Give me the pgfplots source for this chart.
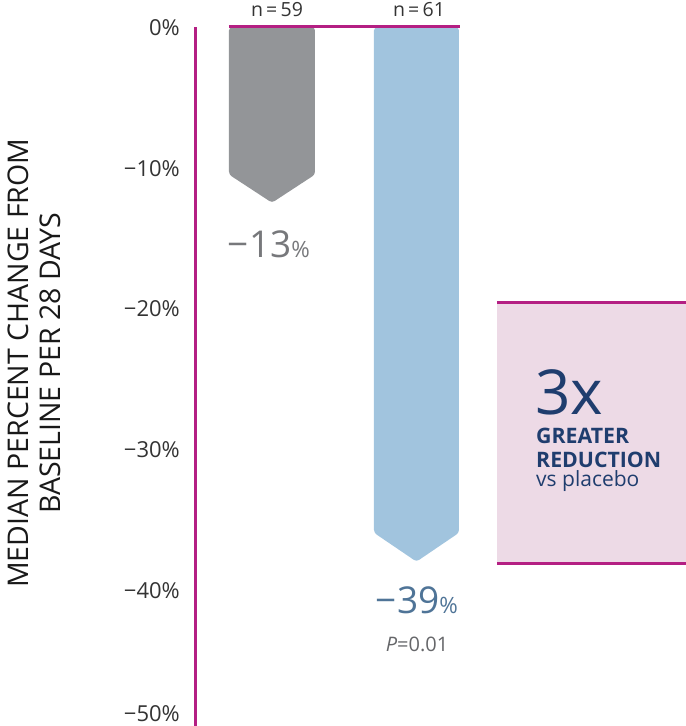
\documentclass[border=0pt]{standalone}
\usepackage{fontspec}
\setmainfont{Open Sans}
\usepackage{pgfplots}
\pgfplotsset{compat=1.18}
\definecolor{mag}{HTML}{B41F83}
\definecolor{barg}{HTML}{939598}
\definecolor{barb}{HTML}{A1C4DE}
\definecolor{boxp}{HTML}{EDDAE6}
\definecolor{navy}{HTML}{1F3D6E}
\definecolor{lblg}{HTML}{77787B}
\definecolor{lblb}{HTML}{4F7497}
\definecolor{txt}{HTML}{333333}
\begin{document}
\begin{tikzpicture}
\begin{axis}[
  scale only axis, width=490bp, height=698.5bp,
  xmin=196, xmax=686, ymin=-49.627, ymax=0,
  clip=false,
  axis x line=none, axis y line*=left,
  y axis line style={draw=mag, line width=3bp, -},
  ytick={0,-10,-20,-30,-40,-48.75},
  yticklabels={0\%,−10\%,−20\%,−30\%,−40\%,−50\%},
  major tick length=0pt, tick style={draw=none},
  yticklabel style={font=\fontsize{22bp}{24bp}\selectfont, text=txt, anchor=east, inner sep=0pt, xshift=-16bp},
]
% background box
\addplot[fill=boxp, draw=none] coordinates {(497,-19.57) (686,-19.57) (686,-38.05) (497,-38.05)} -- cycle;
\addplot[mag, line width=3bp] coordinates {(497,-19.57) (686,-19.57)};
\addplot[mag, line width=3bp] coordinates {(497,-38.05) (686,-38.05)};
% bars
\addplot[fill=barg, draw=none, rounded corners=3bp] coordinates {(229,0) (229,-10.45) (272,-12.45) (315,-10.45) (315,0)} -- cycle;
\addplot[fill=barb, draw=none, rounded corners=3bp] coordinates {(374,0) (374,-35.9) (416.5,-37.95) (459,-35.9) (459,0)} -- cycle;
% zero line
\addplot[mag, line width=3bp] coordinates {(229,0.1) (460,0.1)};
% labels
\node[font=\fontsize{19.5bp}{20bp}\selectfont, text=txt] at (axis cs:277,1.25) {n\,=\,59};
\node[font=\fontsize{19.5bp}{20bp}\selectfont, text=txt] at (axis cs:419,1.25) {n\,=\,61};
\node[font=\fontsize{37bp}{40bp}\selectfont, text=lblg] at (axis cs:269,-15.4) {−13{\fontsize{22.5bp}{24bp}\selectfont\%}};
\node[font=\fontsize{37bp}{40bp}\selectfont, text=lblb] at (axis cs:417,-40.7) {−39{\fontsize{22.5bp}{24bp}\selectfont\%}};
\node[font=\fontsize{20bp}{22bp}\selectfont, text=lblg!85!black] at (axis cs:417,-43.8) {\textit{P}=0.01};
\node[anchor=base west, inner sep=0pt, font=\fontsize{62bp}{64bp}\selectfont, text=navy] at (axis cs:535,-27.53) {3x};
\node[anchor=base west, inner sep=0pt, font=\bfseries\fontsize{21.3bp}{22bp}\selectfont, text=navy] at (axis cs:536,-29.59) {GREATER};
\node[anchor=base west, inner sep=0pt, font=\bfseries\fontsize{21.3bp}{22bp}\selectfont, text=navy] at (axis cs:536,-31.23) {REDUCTION};
\node[anchor=base west, inner sep=0pt, font=\fontsize{21bp}{22bp}\selectfont, text=navy] at (axis cs:536,-32.58) {vs placebo};
\node[rotate=90, align=center, font=\fontsize{28.5bp}{32bp}\selectfont, text=black!90] at (axis cs:34,-23.85) {MEDIAN PERCENT CHANGE FROM\\BASELINE PER 28 DAYS};
\coordinate (TL) at (axis cs:0,1.954);
\coordinate (BR) at (axis cs:686,-49.627);
\end{axis}
\pgfresetboundingbox
\useasboundingbox (TL) rectangle (BR);
\end{tikzpicture}
\end{document}
